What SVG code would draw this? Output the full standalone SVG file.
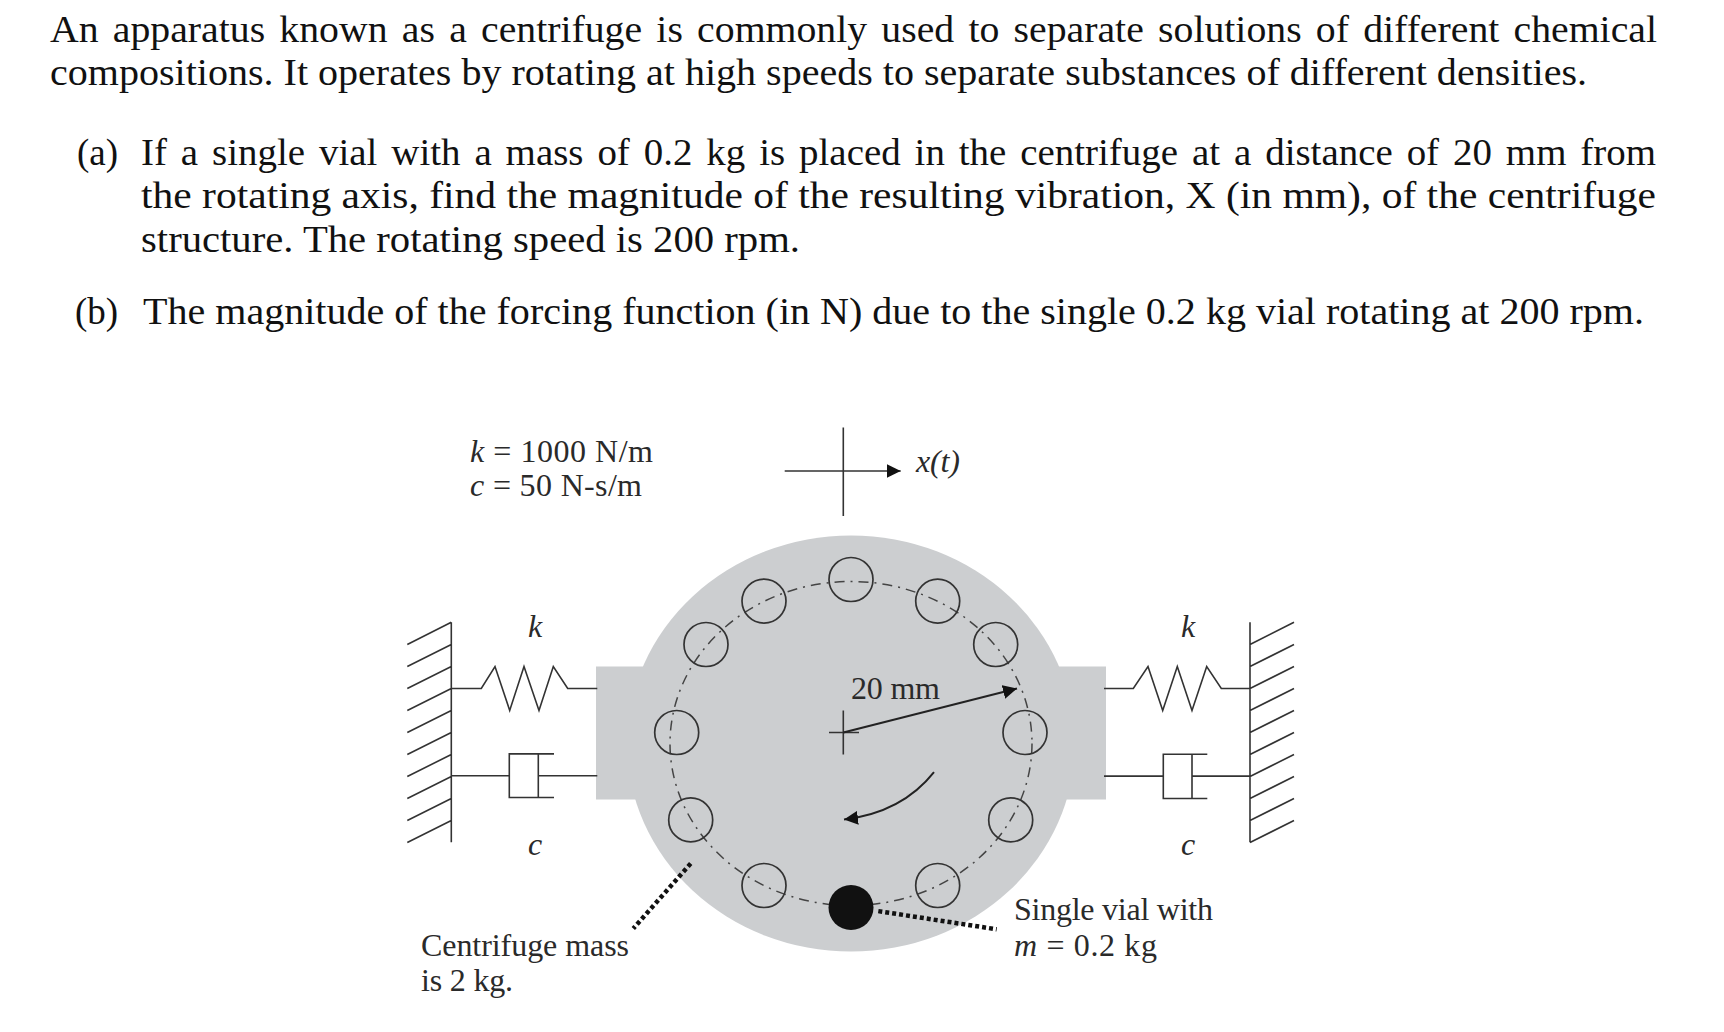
<svg xmlns="http://www.w3.org/2000/svg" width="1724" height="1032" viewBox="0 0 1724 1032">
<style>
text{font-family:"Liberation Serif","Times New Roman",serif;fill:#1c1c1c}
.q{font-size:37px;fill:#111}
.w{word-spacing:4px}
.d{font-size:32px;fill:#2a2a2a}
.i{font-style:italic}
.l{fill:none;stroke:#333;stroke-width:1.6}
.v{fill:none;stroke:#333;stroke-width:1.7}
.ring{fill:none;stroke:#444;stroke-width:1.5;stroke-dasharray:10 6 2 6}
.dot{fill:none;stroke:#111;stroke-width:4.5;stroke-dasharray:4 3}
</style>
<defs>
<marker id="ah" viewBox="0 0 14 14" refX="14" refY="7" markerUnits="userSpaceOnUse" markerWidth="14" markerHeight="14" orient="auto"><path d="M0 0L14 7L0 14Z" fill="#111"/></marker>
</defs>
<rect width="1724" height="1032" fill="#fff"/>
<g id="problem-text">
<text class="q w" x="50" y="42" textLength="1607" lengthAdjust="spacingAndGlyphs">An apparatus known as a centrifuge is commonly used to separate solutions of different chemical</text>
<text class="q" x="50" y="85" textLength="1537" lengthAdjust="spacingAndGlyphs">compositions. It operates by rotating at high speeds to separate substances of different densities.</text>
<text class="q" x="77" y="165">(a)</text>
<text class="q w" x="141" y="165" textLength="1515" lengthAdjust="spacingAndGlyphs">If a single vial with a mass of 0.2 kg is placed in the centrifuge at a distance of 20 mm from</text>
<text class="q" x="141" y="208" textLength="1515" lengthAdjust="spacingAndGlyphs">the rotating axis, find the magnitude of the resulting vibration, X (in mm), of the centrifuge</text>
<text class="q" x="141" y="252" textLength="659" lengthAdjust="spacingAndGlyphs">structure. The rotating speed is 200 rpm.</text>
<text class="q" x="75" y="324">(b)</text>
<text class="q" x="143" y="324" textLength="1501" lengthAdjust="spacingAndGlyphs">The magnitude of the forcing function (in N) due to the single 0.2 kg vial rotating at 200 rpm.</text>
</g>
<g id="centrifuge" transform="translate(0 -1.5)">
<ellipse cx="851" cy="745" rx="224" ry="208" fill="#ccced0"/>
<rect x="596" y="668" width="510" height="133" fill="#ccced0"/>
<ellipse class="ring" cx="851" cy="745" rx="181" ry="162"/>
</g>
<g id="vials" transform="translate(0 -1.5)">
<circle class="v" cx="851" cy="581" r="22"/>
<circle class="v" cx="764" cy="602.6" r="22"/>
<circle class="v" cx="706" cy="646" r="22"/>
<circle class="v" cx="676.7" cy="734" r="22"/>
<circle class="v" cx="690.7" cy="821.4" r="22"/>
<circle class="v" cx="764" cy="887" r="22"/>
<circle cx="851" cy="909" r="22.5" fill="#111"/>
<circle class="v" cx="937.7" cy="602.6" r="22"/>
<circle class="v" cx="995.7" cy="646" r="22"/>
<circle class="v" cx="1025" cy="734" r="22"/>
<circle class="v" cx="1010.7" cy="821.4" r="22"/>
<circle class="v" cx="937.7" cy="887" r="22"/>
</g>
<g id="wall-left" transform="translate(0 -1.5)">
<path class="l" d="M451.3 623.7V843.7M451.3 623.7L407.3 646M451.3 646L407.3 668M451.3 668L407.3 690M451.3 690L407.3 712M451.3 712L407.3 734M451.3 734L407.3 756M451.3 756L407.3 778M451.3 778L407.3 800M451.3 800L407.3 822M451.3 822L407.3 844"/>
</g>
<g id="wall-right" transform="translate(0 -1.5)">
<path class="l" d="M1250 623.7V843.7M1250 646L1294 623.7M1250 668L1294 646M1250 690L1294 668M1250 712L1294 690M1250 734L1294 712M1250 756L1294 734M1250 778L1294 756M1250 800L1294 778M1250 822L1294 800M1250 844L1294 822"/>
</g>
<g id="connectors">
<g transform="translate(0 -1.5)">
<path class="l" id="spring-left" d="M451.3 690H481.3L495 668L509.7 712L524 668L539 712L553.3 668L567.7 690H597.3"/>
<path class="l" id="damper-left" d="M451.3 777.2H509.3M554 755.4H509.3V799H554M538.3 755.4V799M538.3 777.2H597.3"/>
<path class="l" id="spring-right" d="M1104 690H1133.3L1148 668L1162.7 712L1177.3 668L1192 712L1206.7 668L1221.3 690H1250"/>
<path class="l" id="damper-right" d="M1104 777.6H1163.3M1207.3 755.8H1163.3V800H1207.3M1192 755.8V800M1192 777.6H1250"/>
<path class="l" id="axis-center" d="M843.3 712V756M829 734H859"/>
<path id="radius" d="M843.3 734L1017 690" fill="none" stroke="#222" stroke-width="2" marker-end="url(#ah)"/>
<path id="rotation" d="M934 773.6Q902 814 844 821" fill="none" stroke="#222" stroke-width="2" marker-end="url(#ah)"/>
<path class="dot" id="leader-mass" d="M690.7 865L633.3 930"/>
<path class="dot" id="leader-vial" d="M878.3 912.6L996.7 930.8"/>
</g>
<path class="l" id="axis-x" d="M843.3 427.5V516M784.7 471H900.7" marker-end="url(#ah)"/>
</g>
<g id="labels">
<text class="d" x="470" y="462" textLength="183" lengthAdjust="spacing"><tspan class="i">k</tspan> = 1000 N/m</text>
<text class="d" x="470" y="496" textLength="172" lengthAdjust="spacing"><tspan class="i">c</tspan> = 50 N-s/m</text>
<text class="d i" x="916" y="472" textLength="44" lengthAdjust="spacing">x(t)</text>
<text class="d i" x="528" y="637">k</text>
<text class="d i" x="1181" y="637">k</text>
<text class="d i" x="528" y="855">c</text>
<text class="d i" x="1181" y="855">c</text>
<text class="d" x="851" y="699" textLength="89" lengthAdjust="spacing">20 mm</text>
<text class="d" x="421" y="955.5" textLength="208" lengthAdjust="spacing">Centrifuge mass</text>
<text class="d" x="421" y="991" textLength="92" lengthAdjust="spacing">is 2 kg.</text>
<text class="d" x="1014" y="920" textLength="199" lengthAdjust="spacing">Single vial with</text>
<text class="d" x="1014" y="955.5" textLength="143" lengthAdjust="spacing"><tspan class="i">m</tspan> = 0.2 kg</text>
</g>
</svg>
